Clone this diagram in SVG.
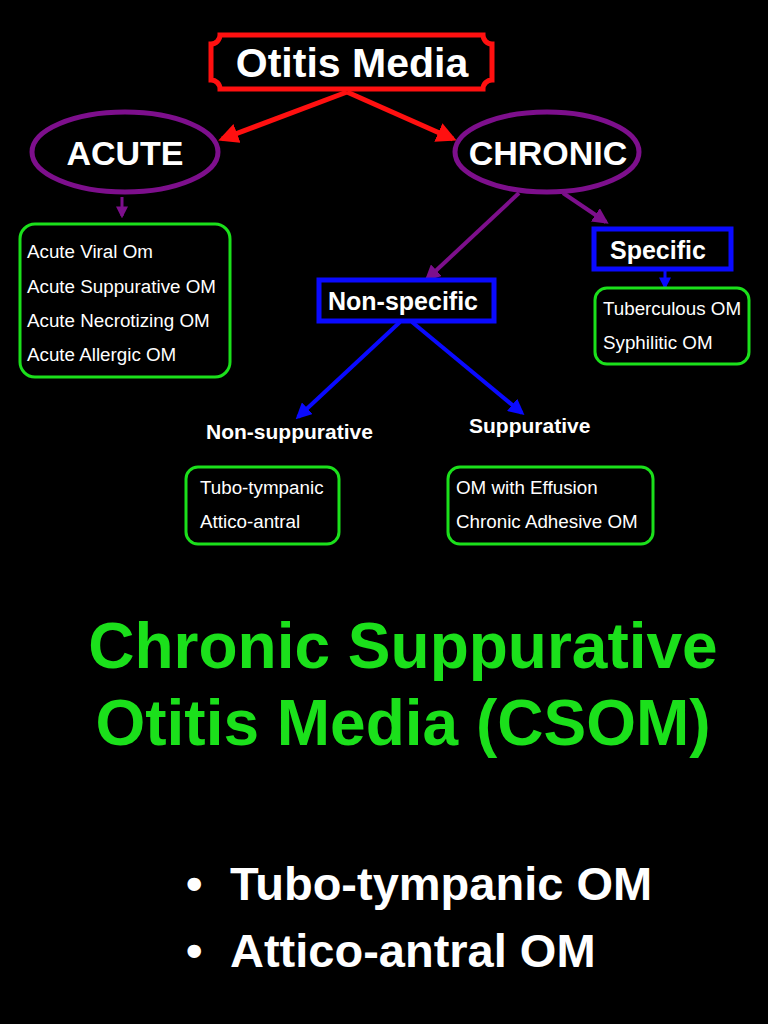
<svg xmlns="http://www.w3.org/2000/svg" width="768" height="1024" viewBox="0 0 768 1024">
<style>
text{font-family:"Liberation Sans",Arial,sans-serif;fill:#fff}
.b{font-weight:bold}
.s{font-size:18.8px}
.g{fill:none;stroke:#1be01b;stroke-width:3}
.bl{fill:#000;stroke:#0a0aff;stroke-width:5}
.el{fill:#000;stroke:#7d0f8c;stroke-width:5}
</style>
<defs>
<marker id="mr" viewBox="0 0 10 10" refX="8" refY="5" markerWidth="4" markerHeight="4" orient="auto"><path d="M0,0L10,5L0,10z" fill="#ff1010"/></marker>
<marker id="mp" viewBox="0 0 10 10" refX="8" refY="5" markerWidth="4" markerHeight="4" orient="auto"><path d="M0,0L10,5L0,10z" fill="#7d0f8c"/></marker>
<marker id="mb" viewBox="0 0 10 10" refX="8" refY="5" markerWidth="4" markerHeight="4" orient="auto"><path d="M0,0L10,5L0,10z" fill="#0a0aff"/></marker>
</defs>
<rect width="768" height="1024" fill="#000"/>
<g id="connectors" fill="none" stroke-width="4">
<line x1="347" y1="92" x2="222" y2="139" stroke="#ff1010" stroke-width="5" marker-end="url(#mr)"/>
<line x1="347" y1="92" x2="453" y2="139" stroke="#ff1010" stroke-width="5" marker-end="url(#mr)"/>
<line x1="122" y1="197" x2="122" y2="216" stroke="#7d0f8c" stroke-width="3" marker-end="url(#mp)"/>
<line x1="519" y1="193" x2="427" y2="279" stroke="#7d0f8c" marker-end="url(#mp)"/>
<line x1="563" y1="193" x2="606" y2="222" stroke="#7d0f8c" marker-end="url(#mp)"/>
<line x1="665" y1="270" x2="665" y2="287" stroke="#0a0aff" stroke-width="3" marker-end="url(#mb)"/>
<line x1="400" y1="322" x2="298" y2="417" stroke="#0a0aff" marker-end="url(#mb)"/>
<line x1="412" y1="322" x2="522" y2="413" stroke="#0a0aff" marker-end="url(#mb)"/>
</g>
<g id="otitis">
<path d="M220,35 H483 A9,9 0 0 0 492,44 V80 A9,9 0 0 0 483,89 H220 A9,9 0 0 0 211,80 V44 A9,9 0 0 0 220,35 Z" fill="#000" stroke="#ff1010" stroke-width="5"/>
<text x="352" y="77" class="b" font-size="41" text-anchor="middle">Otitis Media</text>
</g>
<g id="acute"><ellipse cx="125" cy="152" rx="93" ry="40" class="el"/><text x="125" y="165" class="b" font-size="34" text-anchor="middle">ACUTE</text></g>
<g id="chronic"><ellipse cx="547" cy="152" rx="92" ry="40" class="el"/><text x="548" y="165" class="b" font-size="34" text-anchor="middle">CHRONIC</text></g>
<g id="acute-list"><rect x="20" y="224" width="210" height="153" rx="15" class="g"/>
<text x="27" y="258" class="s">Acute Viral Om</text><text x="27" y="293" class="s">Acute Suppurative OM</text><text x="27" y="327" class="s">Acute Necrotizing OM</text><text x="27" y="361" class="s">Acute Allergic OM</text></g>
<g id="specific"><rect x="594" y="229" width="137" height="40" class="bl"/><text x="610" y="259" class="b" font-size="25">Specific</text></g>
<g id="specific-list"><rect x="595" y="288" width="154" height="76" rx="12" class="g"/><text x="603" y="315" class="s">Tuberculous OM</text><text x="603" y="349" class="s">Syphilitic OM</text></g>
<g id="nonspecific"><rect x="319" y="280" width="175" height="41" class="bl"/><text x="328" y="310" class="b" font-size="25">Non-specific</text></g>
<g id="nonsupp"><text x="206" y="439" class="b" font-size="21">Non-suppurative</text></g>
<g id="supp"><text x="469" y="433" class="b" font-size="21">Suppurative</text></g>
<g id="nonsupp-list"><rect x="186" y="467" width="153" height="77" rx="12" class="g"/><text x="200" y="494" class="s">Tubo-tympanic</text><text x="200" y="528" class="s">Attico-antral</text></g>
<g id="supp-list"><rect x="448" y="467" width="205" height="77" rx="12" class="g"/><text x="456" y="494" class="s">OM with Effusion</text><text x="456" y="528" class="s">Chronic Adhesive OM</text></g>
<g id="title">
<text x="403" y="668" class="b" font-size="64" text-anchor="middle" style="fill:#1be01b">Chronic Suppurative</text>
<text x="403" y="745" class="b" font-size="64" text-anchor="middle" style="fill:#1be01b">Otitis Media (CSOM)</text>
</g>
<g id="bullets">
<text x="186" y="900" class="b" font-size="47">•</text><text x="230" y="900" class="b" font-size="47">Tubo-tympanic OM</text>
<text x="186" y="967" class="b" font-size="47">•</text><text x="230" y="967" class="b" font-size="47">Attico-antral OM</text>
</g>
</svg>
